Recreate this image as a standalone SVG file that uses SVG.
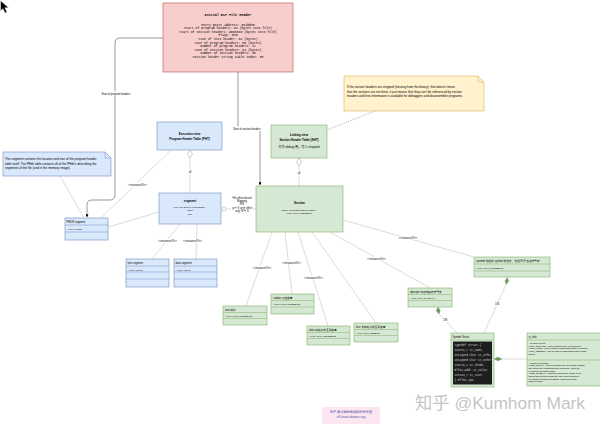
<svg xmlns="http://www.w3.org/2000/svg" width="600" height="428" viewBox="0 0 600 428">
<defs>
<style>
.t{font-family:"Liberation Sans","Noto Sans CJK SC",sans-serif;fill:#000}
.m{font-family:"Liberation Mono","DejaVu Sans Mono",monospace;fill:#000}
.b{font-weight:bold}
.blue{fill:#dae8fc;stroke:#6c8ebf;stroke-width:0.6}
.green{fill:#d5e8d4;stroke:#82b366;stroke-width:0.6}
.red{fill:#f8cecc;stroke:#b85450;stroke-width:0.6}
.yel{fill:#fff2cc;stroke:#d6b656;stroke-width:0.6}
.div{stroke-width:0.5;fill:none}
.dg{stroke:#82b366}
.db{stroke:#6c8ebf}
.c{fill:none;stroke:#c4c4c4;stroke-width:0.6}
.cd{fill:none;stroke:#555;stroke-width:0.6}
.lbl{font-family:"Liberation Sans","Noto Sans CJK SC",sans-serif;font-size:2.6px;text-anchor:middle;fill:#000}
.bg{fill:#fff}
.hd{font-size:2.7px}
.at{font-size:2.5px}
</style>
<marker id="arr" viewBox="0 0 10 10" refX="9" refY="5" markerWidth="5" markerHeight="5" orient="auto">
<path d="M0,0 L10,5 L0,10 Z" fill="#000"/>
</marker>
</defs>
<rect width="600" height="428" fill="#fff"/>

<!-- cursor -->
<polygon points="0.5,0.5 0.5,11 3,8.7 5,13 7,12.2 5,7.8 8.6,7.8" fill="#000" stroke="#fff" stroke-width="0.5"/>

<g id="connectors">
<path class="cd" d="M163,38 H120 Q115,38 115,43 V195 Q115,200 110,200 H92 Q87,200 87,205 V217" marker-end="url(#arr)"/>
<rect class="bg" x="100" y="91.5" width="32" height="4.5"/>
<text class="lbl" x="116" y="95">Start of program headers</text>
<path class="cd" d="M238,72 V126 Q238,128.5 240.5,128.5 H257.5 Q260,128.5 260,131 V185" marker-end="url(#arr)"/>
<rect class="bg" x="231" y="126.5" width="32" height="4.5"/>
<text class="lbl" x="247" y="130">Start of section headers</text>

<polygon points="190,150 192.5,154 190,158 187.5,154" fill="#fff" stroke="#999" stroke-width="0.5"/>
<line class="c" x1="190" y1="158" x2="190" y2="193"/>
<rect class="bg" x="186" y="169.5" width="8" height="4"/>
<text class="lbl" x="190" y="172.5">all</text>

<polygon points="299,158 301.5,162 299,166 296.5,162" fill="#fff" stroke="#999" stroke-width="0.5"/>
<line class="c" x1="299" y1="166" x2="299" y2="186"/>
<rect class="bg" x="295" y="170.5" width="8" height="4"/>
<text class="lbl" x="299" y="173.5">all</text>

<line x1="375" y1="111" x2="327" y2="130" stroke="#777" stroke-width="0.6" stroke-dasharray="1,1"/>

<line class="c" x1="60" y1="176" x2="84" y2="218"/>
<line class="c" x1="171" y1="150" x2="101" y2="218"/>
<rect class="bg" x="128" y="183" width="19" height="4"/>
<text class="lbl" x="137.5" y="186">&lt;&lt;instanceOf&gt;&gt;</text>
<line class="c" x1="159" y1="212" x2="108" y2="227"/>

<line class="c" x1="180" y1="224" x2="152" y2="259"/>
<line class="c" x1="197" y1="224" x2="196" y2="259"/>
<rect class="bg" x="158" y="239" width="19" height="4"/>
<text class="lbl" x="167.5" y="242">&lt;&lt;instanceOf&gt;&gt;</text>
<rect class="bg" x="183" y="239" width="19" height="4"/>
<text class="lbl" x="192.5" y="242">&lt;&lt;instanceOf&gt;&gt;</text>

<circle cx="224" cy="209" r="2" fill="#fff" stroke="#999" stroke-width="0.5"/>
<line class="c" x1="226" y1="209" x2="256" y2="209"/>
<rect class="bg" x="231" y="196" width="22" height="17"/>
<text class="lbl" x="242" y="199" font-size="2.4">File offset based</text>
<text class="lbl" x="242" y="202.2" font-size="2.4">Mapping</text>
<text class="lbl" x="242" y="205.4" font-size="2.4">N:N</text>
<text class="lbl" x="242" y="208.6" font-size="2.4">多个 S 对应 offset</text>
<text class="lbl" x="242" y="211.8" font-size="2.4">对应 N 个 S</text>

<line class="c" x1="272" y1="232" x2="246" y2="306"/>
<line class="c" x1="285" y1="232" x2="292" y2="294"/>
<line class="c" x1="298" y1="232" x2="328" y2="326"/>
<line class="c" x1="312" y1="232" x2="376" y2="323"/>
<line class="c" x1="330" y1="232" x2="430" y2="288"/>
<line class="c" x1="343" y1="220" x2="474" y2="257"/>
<rect class="bg" x="252.5" y="265.5" width="19" height="4"/>
<text class="lbl" x="262" y="268.5">&lt;&lt;instanceOf&gt;&gt;</text>
<rect class="bg" x="282" y="260.5" width="19" height="4"/>
<text class="lbl" x="291.5" y="263.5">&lt;&lt;instanceOf&gt;&gt;</text>
<rect class="bg" x="304" y="275.5" width="19" height="4"/>
<text class="lbl" x="313.5" y="278.5">&lt;&lt;instanceOf&gt;&gt;</text>
<rect class="bg" x="367" y="256.5" width="19" height="4"/>
<text class="lbl" x="376.5" y="259.5">&lt;&lt;instanceOf&gt;&gt;</text>
<rect class="bg" x="398.5" y="235.5" width="19" height="4"/>
<text class="lbl" x="408" y="238.5">&lt;&lt;instanceOf&gt;&gt;</text>

<line class="c" x1="439" y1="314" x2="457" y2="333"/>
<polygon points="438,307 440.3,310.5 439,314 436.2,310.8" fill="#6a9a5a" stroke="#82b366" stroke-width="0.4"/>
<rect class="bg" x="442" y="318" width="6" height="4"/>
<text class="lbl" x="445" y="321">1/N</text>
<line class="c" x1="506" y1="284.5" x2="484" y2="333"/>
<polygon points="507.5,277.5 508.8,281.2 506,284.5 505,280.5" fill="#6a9a5a" stroke="#82b366" stroke-width="0.4"/>
<rect class="bg" x="494" y="302" width="6" height="4"/>
<text class="lbl" x="497" y="305">1/N</text>
<line class="c" x1="502" y1="359" x2="527" y2="359"/>
<polygon points="494,359 498,357 502,359 498,361" fill="#6a9a5a" stroke="#82b366" stroke-width="0.4"/>
</g>

<g id="elf-header">
<rect class="red" x="163" y="3" width="130" height="69"/>
<g class="m" text-anchor="middle" font-size="3.2">
<text x="228" y="16" font-size="3.4" font-weight="bold">Initial ELF File Header</text>
<text x="228" y="25.5">Entry point address: 0x4bde0</text>
<text x="228" y="29.1">Start of program headers: 64 (bytes into file)</text>
<text x="228" y="32.7">Start of section headers: 9668888 (bytes into file)</text>
<text x="228" y="36.3">Flags: 0x0</text>
<text x="228" y="39.9">Size of this header: 64 (bytes)</text>
<text x="228" y="43.5">Size of program headers: 56 (bytes)</text>
<text x="228" y="47.1">Number of program headers: 12</text>
<text x="228" y="50.7">Size of section headers: 64 (bytes)</text>
<text x="228" y="54.3">Number of section headers: 36</text>
<text x="228" y="57.9">Section header string table index: 35</text>
</g>
</g>

<g id="note-phdr">
<path class="blue" d="M3,152 H105 L111,158 V176 H3 Z"/>
<path d="M105,152 V158 H111" fill="none" stroke="#6c8ebf" stroke-width="0.5"/>
<g class="t" font-size="3.1">
<text x="5" y="160">This segment contains the location and size of the program header</text>
<text x="5" y="164.5">table itself. The PHdr table contains all of the PHdr's describing the</text>
<text x="5" y="169">segments of the file (and in the memory image).</text>
</g>
</g>

<g id="note-strip">
<path class="yel" d="M344,76 H478 L484,82 V111 H344 Z"/>
<path d="M478,76 V82 H484" fill="none" stroke="#d6b656" stroke-width="0.5"/>
<g class="t" font-size="3.1">
<text x="347" y="88">If the section headers are stripped (missing from the binary), that doesn't mean</text>
<text x="347" y="92.5">that the sections are not there; it just means that they can't be referenced by section</text>
<text x="347" y="97">headers and less information is available for debuggers and disassembler programs.</text>
</g>
</g>

<g id="execution-view">
<rect class="blue" x="157" y="122" width="65" height="28"/>
<text class="t b" x="189.5" y="135" font-size="3" text-anchor="middle">Execution view</text>
<text class="t b" x="189.5" y="139.5" font-size="3" text-anchor="middle">Program Header Table (PHT)</text>
</g>

<g id="linking-view">
<rect class="green" x="271" y="125" width="56" height="33"/>
<text class="t b" x="299" y="136" font-size="3" text-anchor="middle">Linking view</text>
<text class="t b" x="299" y="140.5" font-size="3" text-anchor="middle">Section Header Table (SHT)</text>
<text class="t" x="299" y="148" font-size="3.1" text-anchor="middle">只为 debug 用，可以 stripped</text>
</g>

<g id="segment">
<rect class="blue" x="159" y="193" width="62" height="31"/>
<text class="t b" x="190" y="202" font-size="3" text-anchor="middle">segment</text>
<text class="t" x="190" y="207.5" font-size="2.3" text-anchor="middle">type: LOAD/DYNAMIC/NOTE/...</text>
<text class="t" x="190" y="211" font-size="2.3" text-anchor="middle">offset</text>
<text class="t" x="190" y="214.5" font-size="2.3" text-anchor="middle">size</text>
</g>

<g id="section">
<rect class="green" x="256" y="186" width="87" height="46"/>
<text class="t b" x="299.5" y="204" font-size="3" text-anchor="middle">Section</text>
<text class="t" x="299.5" y="210.5" font-size="2.4" text-anchor="middle">name: .text/.data/.bss/.dynamic/...</text>
<text class="t" x="299.5" y="214" font-size="2.4" text-anchor="middle">type: SHT_PROGBITS</text>
</g>

<g id="phdr-segment">
<rect class="blue" x="65" y="218" width="43" height="22"/>
<path class="div db" d="M65,225 H108 M65,232 H108"/>
<text class="t hd" x="66.5" y="223">PHDR segment</text>
<text class="t at" x="66.5" y="230">+ type: PHDR</text>
</g>

<g id="text-segment">
<rect class="blue" x="126" y="259" width="43" height="28"/>
<path class="div db" d="M126,266 H169 M126,272 H169 M126,279 H169"/>
<text class="t hd" x="127.5" y="264">text segment</text>
<text class="t at" x="127.5" y="270.5">+ type: LOAD</text>
</g>

<g id="data-segment">
<rect class="blue" x="174" y="259" width="43" height="28"/>
<path class="div db" d="M174,266 H217 M174,272 H217 M174,279 H217"/>
<text class="t hd" x="175.5" y="264">data segment</text>
<text class="t at" x="175.5" y="270.5">+ type: LOAD</text>
</g>

<g id="sec-text">
<rect class="green" x="223" y="306" width="44" height="19"/>
<path class="div dg" d="M223,312.5 H267 M223,318.5 H267"/>
<text class="t hd" x="224.5" y="311">.text 程序</text>
<text class="t at" x="224.5" y="317">+ type: SHT_PROGBITS</text>
</g>

<g id="sec-rodata">
<rect class="green" x="271" y="294" width="43" height="20"/>
<path class="div dg" d="M271,300.5 H314 M271,307 H314"/>
<text class="t hd" x="272.5" y="299">.rodata 只读变量</text>
<text class="t at" x="272.5" y="305.2">+ type: SHT_PROGBITS</text>
</g>

<g id="sec-data">
<rect class="green" x="307" y="326" width="43" height="19"/>
<path class="div dg" d="M307,332.5 H350 M307,338.5 H350"/>
<text class="t hd" x="308.5" y="331">.data 初始化的全局变量</text>
<text class="t at" x="308.5" y="337">+ type: SHT_PROGBITS</text>
</g>

<g id="sec-bss">
<rect class="green" x="354" y="323" width="44" height="19"/>
<path class="div dg" d="M354,329.5 H398 M354,335.5 H398"/>
<text class="t hd" x="355.5" y="328">.bss 未初始化的全局变量</text>
<text class="t at" x="355.5" y="334">+ type: SHT_NOBITS</text>
</g>

<g id="sec-symtab">
<rect class="green" x="474" y="257" width="76" height="20"/>
<path class="div dg" d="M474,264 H550 M474,271 H550"/>
<text class="t hd" x="475.5" y="262.2">.symtab 包括的 symbol 的信息，包括 ELF 各类符号表</text>
<text class="t at" x="475.5" y="269">+ type: SHT_PROGBITS</text>
</g>

<g id="sec-dynsym">
<rect class="green" x="408" y="288" width="44" height="19"/>
<path class="div dg" d="M408,294.5 H452 M408,300.5 H452"/>
<text class="t hd" x="409.5" y="293">.dynsym 动态链接的符号表</text>
<text class="t at" x="409.5" y="299">+ type: SHT_DYNSYM</text>
</g>

<g id="symbol-struct">
<rect class="green" x="451" y="333" width="43" height="54"/>
<path class="div dg" d="M451,340 H494"/>
<text class="t hd" x="452.5" y="338.2">Symbol Struct</text>
<rect x="453" y="341.5" width="39" height="43" fill="#1e1e1e"/>
<g class="m" font-size="2.8" style="fill:#d4d4d4">
<text x="454.5" y="345.5">typedef struct {</text>
<text x="454.5" y="350.5">uint32_t st_name;</text>
<text x="454.5" y="355.5">unsigned char st_info;</text>
<text x="454.5" y="360.5">unsigned char st_other;</text>
<text x="454.5" y="365.5">uint16_t st_shndx;</text>
<text x="454.5" y="370.5">Elf64_Addr st_value;</text>
<text x="454.5" y="375.5">uint64_t st_size;</text>
<text x="454.5" y="380.5">} Elf64_Sym;</text>
</g>
</g>

<g id="st-info">
<rect class="green" x="527" y="333" width="80" height="53"/>
<path class="div dg" d="M527,340 H607 M527,360 H607"/>
<text class="t hd" x="528.5" y="338.2">st_info</text>
<g class="t" font-size="2.4">
<text x="528.5" y="344">+ Symbol types:</text>
<text x="528.5" y="346.7">• STT_NOTYPE - The symbol's type is undefined</text>
<text x="528.5" y="349.4">• STT_FUNC - The symbol is associated with a function</text>
<text x="528.5" y="352.1">• STT_OBJECT - The symbol is associated with a data</text>
<text x="528.5" y="354.8">object</text>
<text x="528.5" y="363.5">+ Symbol bindings:</text>
<text x="528.5" y="366.2">• STB_LOCAL - Local symbols are not visible outside</text>
<text x="528.5" y="368.9">the object file containing their definition, such as</text>
<text x="528.5" y="371.6">a function declared static.</text>
<text x="528.5" y="374.3">• STB_GLOBAL - Global symbols are visible to all</text>
<text x="528.5" y="377">object files being combined. One file's definition</text>
<text x="528.5" y="379.7">of a global symbol will satisfy reference to the</text>
<text x="528.5" y="382.4">same symbol.</text>
</g>
</g>

<g id="caption">
<rect x="322" y="407" width="58" height="17" fill="#fbe6f1"/>
<text class="t" x="351" y="412.5" font-size="3.2" text-anchor="middle" font-style="italic" style="fill:#4b4ba8">ELF 格式相关数据结构关系图</text>
<text class="t" x="351" y="417.5" font-size="3.2" text-anchor="middle" font-style="italic" style="fill:#4b4ba8">elf-struct.drawio.svg</text>
</g>

<text class="t" x="415" y="409" font-size="17" textLength="170" lengthAdjust="spacingAndGlyphs" style="fill:#b8b8b8;fill-opacity:0.85">知乎 @Kumhom Mark</text>
</svg>
